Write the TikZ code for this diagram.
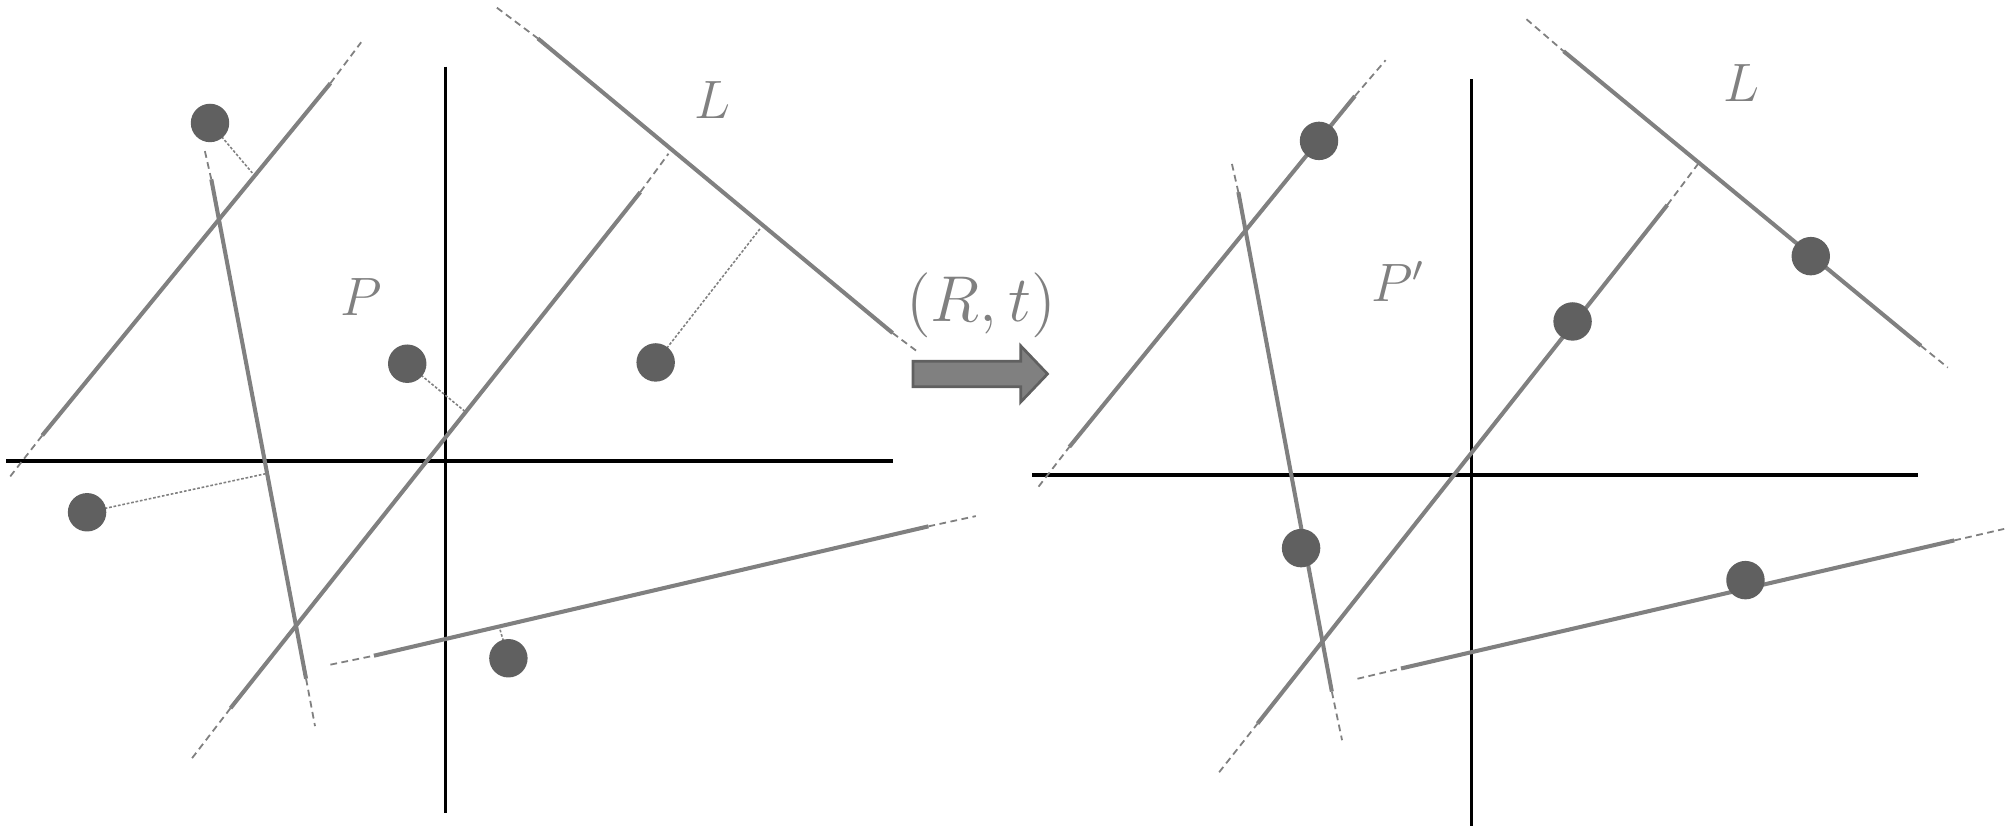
\documentclass[tikz,border=0pt]{standalone}
\usepackage{amsmath}
\usepackage{xcolor}
\definecolor{linegray}{RGB}{128,128,128}
\definecolor{dotgray}{RGB}{96,96,96}
\tikzset{
	axis/.style={black,line width=0.8pt},
	fitsolid/.style={linegray,line width=0.9pt},
	fitdash/.style={linegray,dash pattern=on 1.5pt off 1pt,line width=0.4pt},
	resid/.style={linegray,dash pattern=on 0.6pt off 0.4pt,line width=0.35pt},
	pt/.style={circle,fill=dotgray,inner sep=0pt,minimum size=0.3cm},
	lab/.style={linegray,font=\large},
}
\newcommand\fitline[4]{%
	\draw[fitdash] (#1) -- (#2);
	\draw[fitsolid] (#2) -- (#3);
	\draw[fitdash] (#3) -- (#4);}
\begin{document}
\begin{tikzpicture}[x=0.01cm,y=-0.01cm]
		\useasboundingbox (0,0) rectangle (1568,650);
		% left panel
		\draw[axis] (5,360) -- (697,360);
		\draw[axis] (348,52) -- (348,635);
		\coordinate (a0) at (8,372); \coordinate (a1) at (33,340);
		\coordinate (a2) at (258,65); \coordinate (a3) at (282,33);
		\coordinate (b0) at (160,118); \coordinate (b1) at (165,140);
		\coordinate (b2) at (239,530); \coordinate (b3) at (246,567);
		\coordinate (c0) at (150,592); \coordinate (c1) at (180,553);
		\coordinate (c2) at (500,150); \coordinate (c3) at (522,120);
		\coordinate (l0) at (388,6); \coordinate (l1) at (420,30);
		\coordinate (l2) at (697,260); \coordinate (l3) at (717,275);
		\coordinate (d0) at (258,519); \coordinate (d1) at (292,512);
		\coordinate (d2) at (725,411); \coordinate (d3) at (762,403);
		\fitline{a0}{a1}{a2}{a3}
		\fitline{b0}{b1}{b2}{b3}
		\fitline{c0}{c1}{c2}{c3}
		\fitline{l0}{l1}{l2}{l3}
		\fitline{d0}{d1}{d2}{d3}
		\coordinate (fa) at (197,135); \coordinate (fc) at (364,322);
		\coordinate (fl) at (594,178); \coordinate (fb) at (207,370);
		\coordinate (fd) at (390,490);
		\draw[resid] (164,96) -- (fa);
		\draw[resid] (318,284) -- (fc);
		\draw[resid] (512,283) -- (fl);
		\draw[resid] (68,400) -- (fb);
		\draw[resid] (397,514) -- (fd);
		\node[pt] (p1) at (164,96) {};
		\node[pt] (p2) at (318,284) {};
		\node[pt] (p3) at (512,283) {};
		\node[pt] (p4) at (68,400) {};
		\node[pt] (p5) at (397,514) {};
		\node[lab] (lL) at (556,78) {$L$};
		\node[lab] (lP) at (282,232) {$P$};
		% transform arrow
		\draw[fill=linegray,draw=dotgray,line width=0.6pt]
			(713,282) -- (797,282) -- (797,270) -- (818,292) -- (797,314)
			-- (797,302) -- (713,302) -- cycle;
		\node[lab,font=\Large] (rt) at (766,238) {$(R,t)$};
		% right panel
		\draw[axis] (806,371) -- (1498,371);
		\draw[axis] (1149,62) -- (1149,645);
		\coordinate (A0) at (811,380); \coordinate (A1) at (835,349);
		\coordinate (A2) at (1058,75); \coordinate (A3) at (1082,47);
		\coordinate (B0) at (962,128); \coordinate (B1) at (967,150);
		\coordinate (B2) at (1040,540); \coordinate (B3) at (1048,578);
		\coordinate (C0) at (952,603); \coordinate (C1) at (982,565);
		\coordinate (C2) at (1302,160); \coordinate (C3) at (1326,128);
		\coordinate (L0) at (1192,15); \coordinate (L1) at (1221,40);
		\coordinate (L2) at (1500,270); \coordinate (L3) at (1521,287);
		\coordinate (D0) at (1060,530); \coordinate (D1) at (1094,522);
		\coordinate (D2) at (1526,422); \coordinate (D3) at (1565,413);
		\fitline{A0}{A1}{A2}{A3}
		\fitline{B0}{B1}{B2}{B3}
		\fitline{C0}{C1}{C2}{C3}
		\fitline{L0}{L1}{L2}{L3}
		\fitline{D0}{D1}{D2}{D3}
		\node[pt] (q1) at (1030,110) {};
		\node[pt] (q2) at (1228,251) {};
		\node[pt] (q3) at (1414,200) {};
		\node[pt] (q4) at (1016,428) {};
		\node[pt] (q5) at (1363,453) {};
		\node[lab] (rL) at (1360,65) {$L$};
		\node[lab] (rP) at (1092,220) {$P'$};
	\end{tikzpicture}
\end{document}
